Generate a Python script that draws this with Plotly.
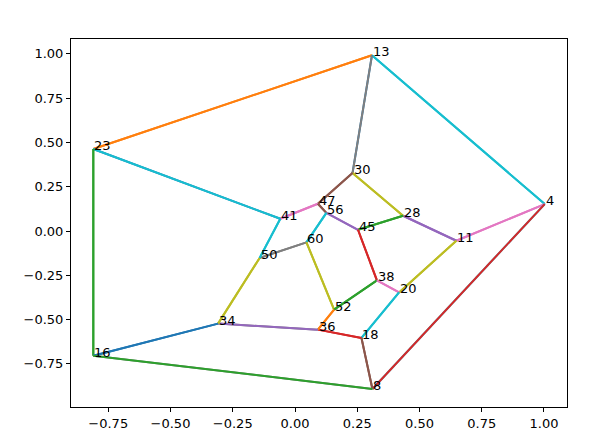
import plotly.graph_objects as go

node_ids = [4, 8, 11, 13, 16, 18, 20, 23, 28, 30, 34, 36, 38, 41, 45, 47, 50, 52, 56, 60]
node_x = [1.003, 0.311, 0.648, 0.309, -0.810, 0.267, 0.418, -0.810, 0.434, 0.231,
          -0.309, 0.092, 0.329, -0.059, 0.253, 0.092, -0.142, 0.157, 0.126, 0.046]
node_y = [0.152, -0.892, -0.055, 0.992, -0.704, -0.604, -0.347, 0.463, 0.086, 0.327,
          -0.523, -0.557, -0.279, 0.069, 0.007, 0.154, -0.152, -0.444, 0.102, -0.064]

blue = '#1f77b4'
orange = '#ff7f0e'
green = '#2ca02c'
red = '#d62728'
purple = '#9467bd'
brown = '#8c564b'
pink = '#e377c2'
grey = '#7f7f7f'
olive = '#bcbd22'
cyan = '#17becf'

edges = [
    (23, 13, orange), (13, 4, cyan), (13, 30, grey), (4, 11, pink), (4, 8, red),
    (11, 28, purple), (11, 20, olive), (28, 30, olive), (28, 45, green), (30, 47, brown),
    (47, 41, pink), (47, 56, brown), (56, 45, purple), (56, 60, cyan), (60, 50, grey),
    (60, 52, olive), (45, 38, red), (38, 52, green), (38, 20, pink), (20, 18, cyan),
    (18, 36, red), (18, 8, brown), (36, 52, orange), (36, 34, purple), (34, 50, olive),
    (50, 41, cyan), (41, 23, cyan), (23, 16, green), (16, 34, blue), (16, 8, green),
]
# every edge is drawn twice, these ones show another colour underneath
under_colors = {(13, 30): blue, (41, 23): blue, (36, 34): grey, (4, 8): cyan, (16, 8): grey}

pos = {n: (x, y) for n, x, y in zip(node_ids, node_x, node_y)}

fig = go.Figure()
for a, b, color in edges:
    for c in [under_colors.get((a, b), color), color]:
        fig.add_trace(go.Scatter(x=[pos[a][0], pos[b][0]], y=[pos[a][1], pos[b][1]], mode='lines',
                                 line=dict(color=c, width=2), showlegend=False))

for n in node_ids:
    fig.add_annotation(x=pos[n][0], y=pos[n][1], text=str(n), showarrow=False, xanchor='left',
                       yanchor='bottom', borderpad=0, borderwidth=0, xshift=1, yshift=-4,
                       font=dict(family='DejaVu Sans', size=13, color='black'))

axis_style = dict(showgrid=False, zeroline=False, showline=True, linecolor='black', linewidth=1,
                  mirror=True, ticks='outside', ticklen=4, tickwidth=1, tickcolor='black',
                  tickformat='.2f', dtick=0.25, tick0=0)
fig.update_xaxes(range=[-0.8996, 1.0924], **axis_style)
fig.update_yaxes(range=[-0.9938, 1.0841], **axis_style)
# page body has an 8px margin, so shrink the figure to land on the same pixels
fig.update_layout(width=594, height=440, margin=dict(l=63.3, r=34.7, t=31.3, b=40.7),
                  plot_bgcolor='white', paper_bgcolor='white',
                  font=dict(family='DejaVu Sans', size=13, color='black'))

fig.write_html("out.html")
